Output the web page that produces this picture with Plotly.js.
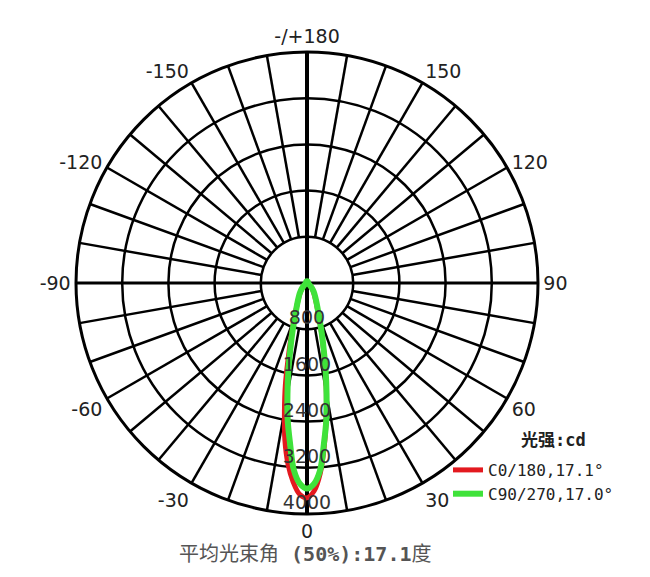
<!DOCTYPE html>
<html>
<head>
<meta charset="utf-8">
<script src="https://cdn.plot.ly/plotly-3.0.1.min.js"></script>
<style>html,body{margin:0;padding:0;background:#fff;}#chart{width:650px;height:577px;}</style>
</head>
<body>
<div id="chart"></div>
<script>
// ---- data ----
const angles = [-180,-150,-120,-90,-75,-60,-50,-45,-40,-35,-30,-25,-20,-18,-16,-14,-12,-10,-8,-6,-4,-2,0,2,4,6,8,10,12,14,16,18,20,25,30,35,40,45,50,60,75,90,120,150,180];
const c0_180 = [20,18,14,8,12,30,65,100,150,200,280,400,640,800,1030,1350,1800,2250,2750,3150,3450,3660,3720,3600,3300,2850,2380,1930,1520,1180,930,730,580,380,270,200,150,100,65,30,12,8,14,18,20];
const c90_270 = [30,28,20,10,15,35,70,110,160,220,290,400,600,750,950,1200,1550,1950,2400,2800,3250,3480,3560,3480,3250,2800,2400,1950,1550,1200,950,750,600,400,290,220,160,110,70,35,15,10,20,28,30];
const seriesNames = ['C0/180,17.1°','C90/270,17.0°'];
const radialTicks = [800,1600,2400,3200,4000];
const angTickVals = [0,30,60,90,120,150,180,210,240,270,300,330];
const angTickText = ['0','30','60','90','120','150','-/+180','-150','-120','-90','-60','-30'];
const legendTitle = '光强:cd';
const footer = '平均光束角 <b>(50%):17.1</b>度';

// ---- grid spokes (every 10°, from first ring to outer ring) ----
const spokeT = [], spokeR = [];
for (let a = 0; a < 360; a += 10) {
  if (a % 90 === 0) continue;
  spokeT.push(a, a, null);
  spokeR.push(radialTicks[0], radialTicks[radialTicks.length-1], null);
}
const rMax = radialTicks[radialTicks.length-1];

const traces = [
  {type:'scatterpolar', mode:'lines', theta:spokeT, r:spokeR, line:{color:'#000', width:2.5}, showlegend:false, hoverinfo:'skip', connectgaps:false},
  {type:'scatterpolar', mode:'lines', theta:[90,90,null,270,270], r:[rMax,0,null,0,rMax], line:{color:'#000', width:3}, showlegend:false, hoverinfo:'skip'},
  {type:'scatterpolar', mode:'lines', theta:[0,0,null,180,180], r:[rMax,0,null,0,rMax], line:{color:'#000', width:4}, showlegend:false, hoverinfo:'skip'},
  {type:'scatterpolar', mode:'lines', name:seriesNames[0], theta:angles, r:c0_180, line:{color:'#e3191f', width:5, shape:'spline'}},
  {type:'scatterpolar', mode:'lines', name:seriesNames[1], theta:angles, r:c90_270, line:{color:'#3fe23a', width:6, shape:'spline'}},
  {type:'scatterpolar', mode:'text', theta:radialTicks.map(()=>0), r:radialTicks, text:radialTicks.map(String), textposition:'top center', textfont:{family:'DejaVu Sans', size:19, color:'#333'}, showlegend:false, hoverinfo:'skip'}
];

const layout = {
  width:650, height:577,
  margin:{l:0,r:0,t:0,b:0},
  paper_bgcolor:'#fff',
  showlegend:true,
  polar:{
    domain:{x:[76/650, 538/650], y:[63/577, 525/577]},
    bgcolor:'#fff',
    radialaxis:{range:[0,rMax], tickvals:radialTicks, showticklabels:false, ticks:'', showline:false, gridcolor:'#000', gridwidth:2.5},
    angularaxis:{rotation:270, direction:'counterclockwise', tickvals:angTickVals, ticktext:angTickText, showgrid:false, showline:true, linecolor:'#000', linewidth:3, ticks:'', tickfont:{family:'DejaVu Sans', size:19, color:'#222'}}
  },
  legend:{x:448/650, xanchor:'left', y:(577-453)/577, yanchor:'top', bgcolor:'rgba(0,0,0,0)', font:{family:'DejaVu Sans Mono', size:16, color:'#222'}, tracegroupgap:0},
  annotations:[
    {xref:'paper', yref:'paper', x:305/650, y:(577-554)/577, xanchor:'center', yanchor:'middle', showarrow:false, text:footer, font:{family:'DejaVu Sans Mono, Noto Sans CJK SC', size:20, color:'#555'}},
    {xref:'paper', yref:'paper', x:553/650, y:(577-440)/577, xanchor:'center', yanchor:'middle', showarrow:false, text:'<b>'+legendTitle+'</b>', font:{family:'DejaVu Sans Mono, Noto Sans CJK SC', size:17, color:'#222'}}
  ]
};

Plotly.newPlot('chart', traces, layout, {displayModeBar:false, staticPlot:true});
</script>
</body>
</html>
